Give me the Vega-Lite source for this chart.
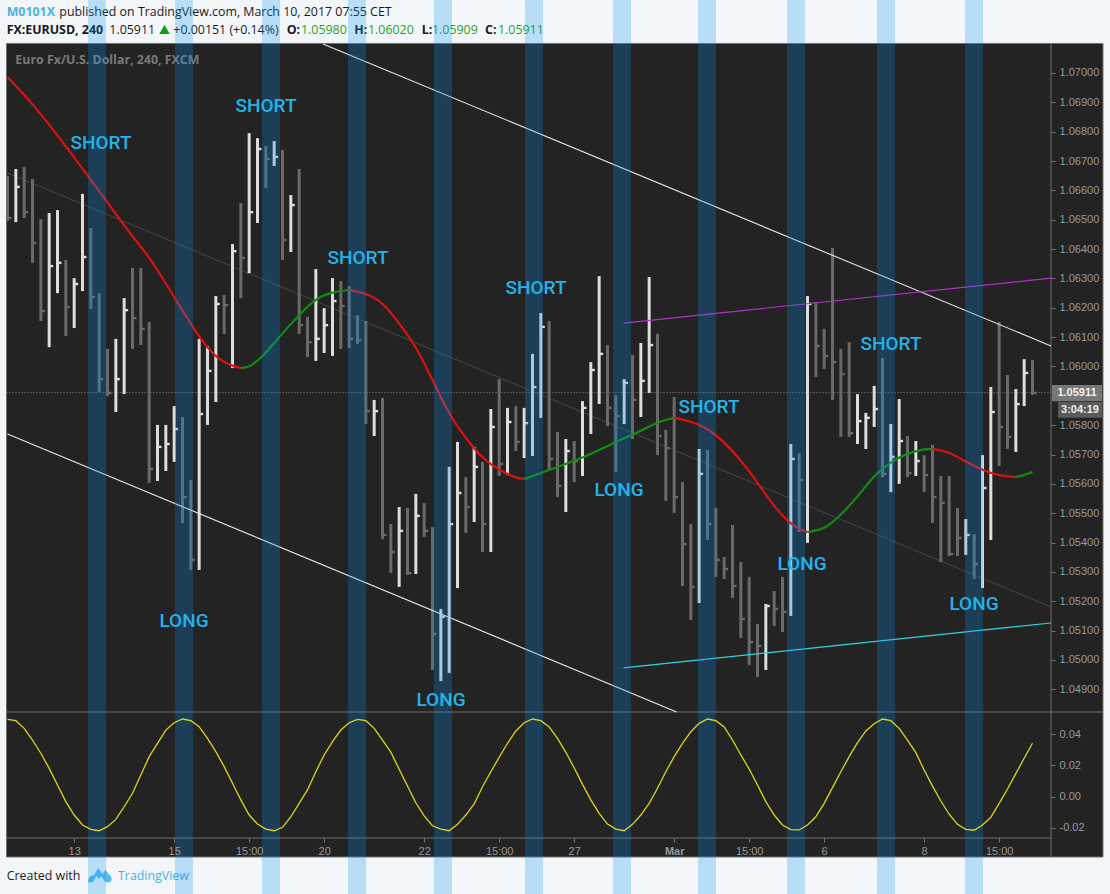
{
  "$schema": "https://vega.github.io/schema/vega-lite/v6.json",
  "width": 1110,
  "height": 894,
  "padding": 0,
  "autosize": {"type": "none"},
  "background": "#f3f6f9",
  "config": {"view": {"stroke": null}, "text": {"font": "Open Sans", "fontSize": 12.4, "align": "left", "baseline": "middle"}},
  "datasets": {
    "bars": [
      {"bar":0,"high":1.06649,"low":1.06496,"close":1.06506,"dir":"down"},
      {"bar":1,"high":1.06673,"low":1.06492,"close":1.06612,"dir":"up"},
      {"bar":2,"high":1.06680,"low":1.06506,"close":1.06526,"dir":"down"},
      {"bar":3,"high":1.06639,"low":1.06353,"close":1.06421,"dir":"down"},
      {"bar":4,"high":1.06502,"low":1.06155,"close":1.06189,"dir":"down"},
      {"bar":5,"high":1.06523,"low":1.06066,"close":1.06342,"dir":"up"},
      {"bar":6,"high":1.06533,"low":1.06250,"close":1.06353,"dir":"up"},
      {"bar":7,"high":1.06363,"low":1.06104,"close":1.06203,"dir":"down"},
      {"bar":8,"high":1.06301,"low":1.06131,"close":1.06281,"dir":"up"},
      {"bar":9,"high":1.06588,"low":1.06257,"close":1.06373,"dir":"up"},
      {"bar":10,"high":1.06472,"low":1.06196,"close":1.06237,"dir":"down"},
      {"bar":11,"high":1.06250,"low":1.05913,"close":1.05957,"dir":"down"},
      {"bar":12,"high":1.06060,"low":1.05899,"close":1.05910,"dir":"down"},
      {"bar":13,"high":1.06094,"low":1.05845,"close":1.05957,"dir":"up"},
      {"bar":14,"high":1.06233,"low":1.05906,"close":1.06192,"dir":"up"},
      {"bar":15,"high":1.06336,"low":1.06060,"close":1.06165,"dir":"down"},
      {"bar":16,"high":1.06336,"low":1.06073,"close":1.06128,"dir":"down"},
      {"bar":17,"high":1.06152,"low":1.05603,"close":1.05651,"dir":"down"},
      {"bar":18,"high":1.05801,"low":1.05610,"close":1.05726,"dir":"up"},
      {"bar":19,"high":1.05801,"low":1.05644,"close":1.05736,"dir":"up"},
      {"bar":20,"high":1.05865,"low":1.05675,"close":1.05787,"dir":"up"},
      {"bar":21,"high":1.05828,"low":1.05467,"close":1.05555,"dir":"down"},
      {"bar":22,"high":1.05613,"low":1.05307,"close":1.05341,"dir":"down"},
      {"bar":23,"high":1.06094,"low":1.05307,"close":1.05838,"dir":"up"},
      {"bar":24,"high":1.06070,"low":1.05801,"close":1.05985,"dir":"up"},
      {"bar":25,"high":1.06240,"low":1.05879,"close":1.06213,"dir":"up"},
      {"bar":26,"high":1.06244,"low":1.06111,"close":1.06209,"dir":"down"},
      {"bar":27,"high":1.06417,"low":1.05995,"close":1.06393,"dir":"up"},
      {"bar":28,"high":1.06557,"low":1.06233,"close":1.06370,"dir":"down"},
      {"bar":29,"high":1.06795,"low":1.06318,"close":1.06526,"dir":"up"},
      {"bar":30,"high":1.06778,"low":1.06489,"close":1.06741,"dir":"up"},
      {"bar":31,"high":1.06751,"low":1.06608,"close":1.06707,"dir":"down"},
      {"bar":32,"high":1.06768,"low":1.06683,"close":1.06714,"dir":"up"},
      {"bar":33,"high":1.06738,"low":1.06363,"close":1.06431,"dir":"down"},
      {"bar":34,"high":1.06584,"low":1.06390,"close":1.06550,"dir":"up"},
      {"bar":35,"high":1.06673,"low":1.06111,"close":1.06141,"dir":"down"},
      {"bar":36,"high":1.06169,"low":1.06032,"close":1.06083,"dir":"down"},
      {"bar":37,"high":1.06332,"low":1.06019,"close":1.06094,"dir":"up"},
      {"bar":38,"high":1.06199,"low":1.06046,"close":1.06141,"dir":"up"},
      {"bar":39,"high":1.06301,"low":1.06036,"close":1.06223,"dir":"up"},
      {"bar":40,"high":1.06291,"low":1.06060,"close":1.06206,"dir":"down"},
      {"bar":41,"high":1.06274,"low":1.06063,"close":1.06094,"dir":"down"},
      {"bar":42,"high":1.06175,"low":1.06077,"close":1.06090,"dir":"down"},
      {"bar":43,"high":1.06155,"low":1.05804,"close":1.05848,"dir":"down"},
      {"bar":44,"high":1.05886,"low":1.05763,"close":1.05848,"dir":"up"},
      {"bar":45,"high":1.05893,"low":1.05412,"close":1.05426,"dir":"down"},
      {"bar":46,"high":1.05463,"low":1.05296,"close":1.05368,"dir":"down"},
      {"bar":47,"high":1.05521,"low":1.05249,"close":1.05440,"dir":"up"},
      {"bar":48,"high":1.05518,"low":1.05290,"close":1.05296,"dir":"down"},
      {"bar":49,"high":1.05566,"low":1.05293,"close":1.05491,"dir":"up"},
      {"bar":50,"high":1.05535,"low":1.05419,"close":1.05440,"dir":"down"},
      {"bar":51,"high":1.05453,"low":1.04966,"close":1.05089,"dir":"down"},
      {"bar":52,"high":1.05174,"low":1.04928,"close":1.05147,"dir":"up"},
      {"bar":53,"high":1.05658,"low":1.04956,"close":1.05463,"dir":"up"},
      {"bar":54,"high":1.05743,"low":1.05245,"close":1.05569,"dir":"up"},
      {"bar":55,"high":1.05623,"low":1.05433,"close":1.05521,"dir":"down"},
      {"bar":56,"high":1.05726,"low":1.05470,"close":1.05658,"dir":"up"},
      {"bar":57,"high":1.05675,"low":1.05368,"close":1.05463,"dir":"down"},
      {"bar":58,"high":1.05855,"low":1.05368,"close":1.05794,"dir":"up"},
      {"bar":59,"high":1.05957,"low":1.05627,"close":1.05668,"dir":"down"},
      {"bar":60,"high":1.05859,"low":1.05630,"close":1.05811,"dir":"up"},
      {"bar":61,"high":1.05865,"low":1.05712,"close":1.05743,"dir":"down"},
      {"bar":62,"high":1.05859,"low":1.05688,"close":1.05807,"dir":"up"},
      {"bar":63,"high":1.06043,"low":1.05695,"close":1.05930,"dir":"up"},
      {"bar":64,"high":1.06182,"low":1.05825,"close":1.06135,"dir":"up"},
      {"bar":65,"high":1.06155,"low":1.05647,"close":1.05685,"dir":"down"},
      {"bar":66,"high":1.05777,"low":1.05555,"close":1.05593,"dir":"down"},
      {"bar":67,"high":1.05753,"low":1.05504,"close":1.05712,"dir":"up"},
      {"bar":68,"high":1.05746,"low":1.05606,"close":1.05678,"dir":"down"},
      {"bar":69,"high":1.05882,"low":1.05627,"close":1.05859,"dir":"up"},
      {"bar":70,"high":1.06015,"low":1.05770,"close":1.05988,"dir":"up"},
      {"bar":71,"high":1.06308,"low":1.05872,"close":1.06043,"dir":"up"},
      {"bar":72,"high":1.06073,"low":1.05797,"close":1.05859,"dir":"down"},
      {"bar":73,"high":1.05903,"low":1.05641,"close":1.05831,"dir":"down"},
      {"bar":74,"high":1.05957,"low":1.05804,"close":1.05944,"dir":"up"},
      {"bar":75,"high":1.06039,"low":1.05753,"close":1.05886,"dir":"down"},
      {"bar":76,"high":1.06080,"low":1.05828,"close":1.05951,"dir":"up"},
      {"bar":77,"high":1.06305,"low":1.05910,"close":1.06073,"dir":"up"},
      {"bar":78,"high":1.06111,"low":1.05698,"close":1.05763,"dir":"down"},
      {"bar":79,"high":1.05784,"low":1.05542,"close":1.05722,"dir":"down"},
      {"bar":80,"high":1.05896,"low":1.05501,"close":1.05555,"dir":"down"},
      {"bar":81,"high":1.05606,"low":1.05252,"close":1.05395,"dir":"down"},
      {"bar":82,"high":1.05463,"low":1.05136,"close":1.05249,"dir":"down"},
      {"bar":83,"high":1.05719,"low":1.05194,"close":1.05634,"dir":"up"},
      {"bar":84,"high":1.05715,"low":1.05409,"close":1.05463,"dir":"down"},
      {"bar":85,"high":1.05518,"low":1.05283,"close":1.05341,"dir":"down"},
      {"bar":86,"high":1.05351,"low":1.05276,"close":1.05310,"dir":"down"},
      {"bar":87,"high":1.05460,"low":1.05211,"close":1.05252,"dir":"down"},
      {"bar":88,"high":1.05334,"low":1.05075,"close":1.05140,"dir":"down"},
      {"bar":89,"high":1.05283,"low":1.04983,"close":1.05061,"dir":"down"},
      {"bar":90,"high":1.05123,"low":1.04942,"close":1.05048,"dir":"down"},
      {"bar":91,"high":1.05191,"low":1.04966,"close":1.05184,"dir":"up"},
      {"bar":92,"high":1.05235,"low":1.05116,"close":1.05174,"dir":"down"},
      {"bar":93,"high":1.05283,"low":1.05095,"close":1.05164,"dir":"down"},
      {"bar":94,"high":1.05736,"low":1.05150,"close":1.05685,"dir":"up"},
      {"bar":95,"high":1.05705,"low":1.05436,"close":1.05613,"dir":"down"},
      {"bar":96,"high":1.06240,"low":1.05399,"close":1.06213,"dir":"up"},
      {"bar":97,"high":1.06220,"low":1.05964,"close":1.06070,"dir":"down"},
      {"bar":98,"high":1.06128,"low":1.05991,"close":1.06036,"dir":"down"},
      {"bar":99,"high":1.06404,"low":1.05886,"close":1.06015,"dir":"down"},
      {"bar":100,"high":1.06060,"low":1.05760,"close":1.05974,"dir":"down"},
      {"bar":101,"high":1.06083,"low":1.05760,"close":1.05773,"dir":"down"},
      {"bar":102,"high":1.05906,"low":1.05736,"close":1.05814,"dir":"up"},
      {"bar":103,"high":1.05842,"low":1.05719,"close":1.05825,"dir":"up"},
      {"bar":104,"high":1.05934,"low":1.05794,"close":1.05855,"dir":"up"},
      {"bar":105,"high":1.06029,"low":1.05623,"close":1.05634,"dir":"down"},
      {"bar":106,"high":1.05804,"low":1.05572,"close":1.05692,"dir":"up"},
      {"bar":107,"high":1.05889,"low":1.05600,"close":1.05746,"dir":"up"},
      {"bar":108,"high":1.05763,"low":1.05623,"close":1.05637,"dir":"down"},
      {"bar":109,"high":1.05746,"low":1.05627,"close":1.05678,"dir":"up"},
      {"bar":110,"high":1.05698,"low":1.05572,"close":1.05630,"dir":"down"},
      {"bar":111,"high":1.05733,"low":1.05467,"close":1.05555,"dir":"down"},
      {"bar":112,"high":1.05627,"low":1.05334,"close":1.05535,"dir":"down"},
      {"bar":113,"high":1.05627,"low":1.05354,"close":1.05361,"dir":"down"},
      {"bar":114,"high":1.05518,"low":1.05354,"close":1.05416,"dir":"down"},
      {"bar":115,"high":1.05480,"low":1.05358,"close":1.05426,"dir":"up"},
      {"bar":116,"high":1.05429,"low":1.05276,"close":1.05327,"dir":"down"},
      {"bar":117,"high":1.05698,"low":1.05245,"close":1.05586,"dir":"up"},
      {"bar":118,"high":1.05930,"low":1.05409,"close":1.05845,"dir":"up"},
      {"bar":119,"high":1.06152,"low":1.05661,"close":1.05794,"dir":"down"},
      {"bar":120,"high":1.05971,"low":1.05719,"close":1.05760,"dir":"down"},
      {"bar":121,"high":1.05923,"low":1.05709,"close":1.05872,"dir":"up"},
      {"bar":122,"high":1.06025,"low":1.05865,"close":1.05978,"dir":"up"},
      {"bar":123,"high":1.06022,"low":1.05903,"close":1.05910,"dir":"down"}
    ],
    "ma": [
      {"bar":0,"price":1.06986,"seg":1,"kind":"fall"},
      {"bar":3,"price":1.06898,"seg":1,"kind":"fall"},
      {"bar":8,"price":1.06714,"seg":1,"kind":"fall"},
      {"bar":10,"price":1.06635,"seg":1,"kind":"fall"},
      {"bar":12,"price":1.06560,"seg":1,"kind":"fall"},
      {"bar":14,"price":1.06479,"seg":1,"kind":"fall"},
      {"bar":17,"price":1.06373,"seg":1,"kind":"fall"},
      {"bar":18,"price":1.06329,"seg":1,"kind":"fall"},
      {"bar":20,"price":1.06237,"seg":1,"kind":"fall"},
      {"bar":23,"price":1.06097,"seg":1,"kind":"fall"},
      {"bar":25,"price":1.06032,"seg":1,"kind":"fall"},
      {"bar":26,"price":1.06015,"seg":1,"kind":"fall"},
      {"bar":27,"price":1.06002,"seg":1,"kind":"fall"},
      {"bar":28,"price":1.05995,"seg":1,"kind":"fall"},
      {"bar":28,"price":1.05995,"seg":2,"kind":"rise"},
      {"bar":29,"price":1.05998,"seg":2,"kind":"rise"},
      {"bar":30,"price":1.06019,"seg":2,"kind":"rise"},
      {"bar":31,"price":1.06046,"seg":2,"kind":"rise"},
      {"bar":33,"price":1.06114,"seg":2,"kind":"rise"},
      {"bar":35,"price":1.06175,"seg":2,"kind":"rise"},
      {"bar":37,"price":1.06233,"seg":2,"kind":"rise"},
      {"bar":39,"price":1.06254,"seg":2,"kind":"rise"},
      {"bar":41,"price":1.06261,"seg":2,"kind":"rise"},
      {"bar":41,"price":1.06261,"seg":3,"kind":"fall"},
      {"bar":43,"price":1.06250,"seg":3,"kind":"fall"},
      {"bar":45,"price":1.06220,"seg":3,"kind":"fall"},
      {"bar":47,"price":1.06148,"seg":3,"kind":"fall"},
      {"bar":49,"price":1.06070,"seg":3,"kind":"fall"},
      {"bar":51,"price":1.05954,"seg":3,"kind":"fall"},
      {"bar":53,"price":1.05835,"seg":3,"kind":"fall"},
      {"bar":55,"price":1.05756,"seg":3,"kind":"fall"},
      {"bar":57,"price":1.05685,"seg":3,"kind":"fall"},
      {"bar":59,"price":1.05647,"seg":3,"kind":"fall"},
      {"bar":61,"price":1.05620,"seg":3,"kind":"fall"},
      {"bar":62,"price":1.05617,"seg":3,"kind":"fall"},
      {"bar":62,"price":1.05617,"seg":4,"kind":"rise"},
      {"bar":64,"price":1.05637,"seg":4,"kind":"rise"},
      {"bar":66,"price":1.05658,"seg":4,"kind":"rise"},
      {"bar":69,"price":1.05688,"seg":4,"kind":"rise"},
      {"bar":72,"price":1.05729,"seg":4,"kind":"rise"},
      {"bar":74,"price":1.05756,"seg":4,"kind":"rise"},
      {"bar":76,"price":1.05780,"seg":4,"kind":"rise"},
      {"bar":78,"price":1.05811,"seg":4,"kind":"rise"},
      {"bar":80,"price":1.05825,"seg":4,"kind":"rise"},
      {"bar":80,"price":1.05825,"seg":5,"kind":"fall"},
      {"bar":82,"price":1.05814,"seg":5,"kind":"fall"},
      {"bar":84,"price":1.05790,"seg":5,"kind":"fall"},
      {"bar":86,"price":1.05743,"seg":5,"kind":"fall"},
      {"bar":88,"price":1.05681,"seg":5,"kind":"fall"},
      {"bar":90,"price":1.05606,"seg":5,"kind":"fall"},
      {"bar":92,"price":1.05521,"seg":5,"kind":"fall"},
      {"bar":94,"price":1.05463,"seg":5,"kind":"fall"},
      {"bar":95,"price":1.05446,"seg":5,"kind":"fall"},
      {"bar":96,"price":1.05436,"seg":5,"kind":"fall"},
      {"bar":96,"price":1.05436,"seg":6,"kind":"rise"},
      {"bar":98,"price":1.05443,"seg":6,"kind":"rise"},
      {"bar":100,"price":1.05494,"seg":6,"kind":"rise"},
      {"bar":102,"price":1.05555,"seg":6,"kind":"rise"},
      {"bar":104,"price":1.05630,"seg":6,"kind":"rise"},
      {"bar":106,"price":1.05675,"seg":6,"kind":"rise"},
      {"bar":108,"price":1.05705,"seg":6,"kind":"rise"},
      {"bar":110,"price":1.05719,"seg":6,"kind":"rise"},
      {"bar":111,"price":1.05719,"seg":6,"kind":"rise"},
      {"bar":111,"price":1.05719,"seg":7,"kind":"fall"},
      {"bar":113,"price":1.05709,"seg":7,"kind":"fall"},
      {"bar":115,"price":1.05675,"seg":7,"kind":"fall"},
      {"bar":117,"price":1.05647,"seg":7,"kind":"fall"},
      {"bar":119,"price":1.05627,"seg":7,"kind":"fall"},
      {"bar":121,"price":1.05623,"seg":7,"kind":"fall"},
      {"bar":121,"price":1.05623,"seg":8,"kind":"rise"},
      {"bar":122,"price":1.05630,"seg":8,"kind":"rise"},
      {"bar":123,"price":1.05641,"seg":8,"kind":"rise"}
    ],
    "osc": [
      {"bar":0,"v":0.0496},{"bar":1,"v":0.0487},{"bar":2,"v":0.0438},{"bar":3,"v":0.0363},{"bar":4,"v":0.0278},{"bar":5,"v":0.0181},{"bar":6,"v":0.0074},{"bar":7,"v":-0.0033},{"bar":8,"v":-0.0119},{"bar":9,"v":-0.0183},
      {"bar":10,"v":-0.0211},{"bar":11,"v":-0.022},{"bar":12,"v":-0.0194},{"bar":13,"v":-0.0147},{"bar":14,"v":-0.0066},{"bar":15,"v":0.0021},{"bar":16,"v":0.0138},{"bar":17,"v":0.0256},{"bar":18,"v":0.0342},{"bar":19,"v":0.0427},
      {"bar":20,"v":0.0474},{"bar":21,"v":0.0498},{"bar":22,"v":0.0487},{"bar":23,"v":0.0449},{"bar":24,"v":0.0374},{"bar":25,"v":0.0288},{"bar":26,"v":0.0192},{"bar":27,"v":0.0085},{"bar":28,"v":-0.0022},{"bar":29,"v":-0.0119},
      {"bar":30,"v":-0.0177},{"bar":31,"v":-0.0209},{"bar":32,"v":-0.022},{"bar":33,"v":-0.0198},{"bar":34,"v":-0.013},{"bar":35,"v":-0.0044},{"bar":36,"v":0.0042},{"bar":37,"v":0.0159},{"bar":38,"v":0.0267},{"bar":39,"v":0.0352},
      {"bar":40,"v":0.0427},{"bar":41,"v":0.0474},{"bar":42,"v":0.0496},{"bar":43,"v":0.0487},{"bar":44,"v":0.0438},{"bar":45,"v":0.0363},{"bar":46,"v":0.0285},{"bar":47,"v":0.0175},{"bar":48,"v":0.0067},{"bar":49,"v":-0.004},
      {"bar":50,"v":-0.0125},{"bar":51,"v":-0.0188},{"bar":52,"v":-0.0209},{"bar":53,"v":-0.022},{"bar":54,"v":-0.0179},{"bar":55,"v":-0.0119},{"bar":56,"v":-0.0048},{"bar":57,"v":0.0063},{"bar":58,"v":0.0159},{"bar":59,"v":0.0252},
      {"bar":60,"v":0.0342},{"bar":61,"v":0.0421},{"bar":62,"v":0.0474},{"bar":63,"v":0.0498},{"bar":64,"v":0.0487},{"bar":65,"v":0.0447},{"bar":66,"v":0.0374},{"bar":67,"v":0.0284},{"bar":68,"v":0.0185},{"bar":69,"v":0.0078},
      {"bar":70,"v":-0.0022},{"bar":71,"v":-0.0108},{"bar":72,"v":-0.0177},{"bar":73,"v":-0.0209},{"bar":74,"v":-0.022},{"bar":75,"v":-0.0179},{"bar":76,"v":-0.0119},{"bar":77,"v":-0.0044},{"bar":78,"v":0.0053},{"bar":79,"v":0.0159},
      {"bar":80,"v":0.0256},{"bar":81,"v":0.0342},{"bar":82,"v":0.0416},{"bar":83,"v":0.047},{"bar":84,"v":0.0498},{"bar":85,"v":0.0487},{"bar":86,"v":0.0447},{"bar":87,"v":0.0363},{"bar":88,"v":0.0267},{"bar":89,"v":0.0177},
      {"bar":90,"v":0.0074},{"bar":91,"v":-0.0033},{"bar":92,"v":-0.0119},{"bar":93,"v":-0.0183},{"bar":94,"v":-0.0213},{"bar":95,"v":-0.0215},{"bar":96,"v":-0.0183},{"bar":97,"v":-0.013},{"bar":98,"v":-0.0044},{"bar":99,"v":0.0057},
      {"bar":100,"v":0.0159},{"bar":101,"v":0.0256},{"bar":102,"v":0.0346},{"bar":103,"v":0.0421},{"bar":104,"v":0.0468},{"bar":105,"v":0.0498},{"bar":106,"v":0.0487},{"bar":107,"v":0.0438},{"bar":108,"v":0.0363},{"bar":109,"v":0.0282},
      {"bar":110,"v":0.017},{"bar":111,"v":0.0067},{"bar":112,"v":-0.0029},{"bar":113,"v":-0.0114},{"bar":114,"v":-0.0179},{"bar":115,"v":-0.0211},{"bar":116,"v":-0.0217},{"bar":117,"v":-0.0183},{"bar":118,"v":-0.0134},{"bar":119,"v":-0.0044},
      {"bar":120,"v":0.0048},{"bar":121,"v":0.0147},{"bar":122,"v":0.0246},{"bar":123,"v":0.0342}
    ]
  },
  "encoding": {
    "x": {
      "field": "bar",
      "type": "quantitative",
      "scale": {"domain": [-0.9, 132.3], "nice": false, "zero": false},
      "axis": {
        "title": null,
        "orient": "bottom",
        "offset": -56,
        "zindex": 1,
        "grid": false,
        "domain": false,
        "values": [8, 20, 29, 38, 50, 59, 68, 80, 89, 98, 110, 119],
        "labelExpr": "{'8':'13','20':'15','29':'15:00','38':'20','50':'22','59':'15:00','68':'27','80':'Mar','89':'15:00','98':'6','110':'8','119':'15:00'}[datum.value]",
        "labelFontWeight": {"condition": {"test": "datum.value == 80", "value": "bold"}, "value": "normal"},
        "labelOverlap": false,
        "labelFlush": false,
        "labelFont": "Liberation Sans",
        "labelFontSize": 11,
        "labelColor": "#999999",
        "labelPadding": 3,
        "tickColor": "#777777",
        "tickSize": 4
      }
    }
  },
  "layer": [
    {
      "layer": [
        {
          "data": {"values": [{"bar": -0.12, "bar2": 131.46, "top": 1.071005, "bottom": 1.043288}]},
          "mark": {"type": "rect", "fill": "#232323", "stroke": "#707070", "strokeWidth": 1},
          "encoding": {
            "x2": {"field": "bar2"},
            "y": {"field": "top", "type": "quantitative", "scale": {"domain": [1.042027, 1.072487], "nice": false, "zero": false}, "axis": null},
            "y2": {"field": "bottom"}
          }
        },
        {
          "data": {"values": [
            {"bar": -0.12, "bar2": 131.46, "price": 1.048228},
            {"bar": -0.12, "bar2": 125.22, "price": 1.043935}
          ]},
          "mark": {"type": "rule", "color": "#707070", "strokeWidth": 1},
          "encoding": {
            "x2": {"field": "bar2"},
            "y": {"field": "price", "type": "quantitative", "scale": {"domain": [1.042027, 1.072487], "nice": false, "zero": false}, "axis": null}
          }
        },
        {
          "data": {"values": [{"bar": 125.22, "top": 1.071005, "bottom": 1.043288}]},
          "mark": {"type": "rule", "color": "#707070", "strokeWidth": 1},
          "encoding": {
            "y": {"field": "top", "type": "quantitative", "scale": {"domain": [1.042027, 1.072487], "nice": false, "zero": false}, "axis": null},
            "y2": {"field": "bottom"}
          }
        },
        {
          "data": {"values": [{"bar": -0.12, "bar2": 125.22, "price": 1.05911}]},
          "mark": {"type": "rule", "color": "#8a8a8a", "strokeWidth": 1, "strokeDash": [1, 2]},
          "encoding": {
            "x2": {"field": "bar2"},
            "y": {"field": "price", "type": "quantitative", "scale": {"domain": [1.042027, 1.072487], "nice": false, "zero": false}, "axis": null}
          }
        },
        {
          "data": {"values": [{"bar": 0, "bar2": 125.22, "price": 1.06659, "price2": 1.05181}]},
          "mark": {"type": "rule", "color": "#454545", "strokeWidth": 1},
          "encoding": {
            "x2": {"field": "bar2"},
            "y": {"field": "price", "type": "quantitative", "scale": {"domain": [1.042027, 1.072487], "nice": false, "zero": false}, "axis": null},
            "y2": {"field": "price2"}
          }
        },
        {
          "data": {"name": "bars"},
          "mark": {"type": "rule", "strokeWidth": 3},
          "encoding": {
            "y": {"field": "high", "type": "quantitative", "scale": {"domain": [1.042027, 1.072487], "nice": false, "zero": false}, "axis": null},
            "y2": {"field": "low"},
            "color": {"field": "dir", "type": "nominal", "scale": {"domain": ["up", "down", "fall", "rise"], "range": ["#dddddd", "#6a6a6a", "#dc1212", "#128c12"]}, "legend": null}
          }
        },
        {
          "data": {"name": "bars"},
          "mark": {"type": "point", "filled": true, "opacity": 1, "size": 5.8, "shape": "M0,-1 L3.3,-1 L3.3,1 L0,1 Z"},
          "encoding": {
            "y": {"field": "close", "type": "quantitative", "scale": {"domain": [1.042027, 1.072487], "nice": false, "zero": false}, "axis": null},
            "color": {"field": "dir", "type": "nominal", "scale": {"domain": ["up", "down", "fall", "rise"], "range": ["#dddddd", "#6a6a6a", "#dc1212", "#128c12"]}, "legend": null}
          }
        },
        {
          "data": {"values": [
            {"bar": 37.86, "bar2": 125.22, "price": 1.07099, "price2": 1.0607},
            {"bar": 0, "bar2": 80.3, "price": 1.0577, "price2": 1.04823}
          ]},
          "mark": {"type": "rule", "color": "#e8e8e8", "strokeWidth": 1.1},
          "encoding": {
            "x2": {"field": "bar2"},
            "y": {"field": "price", "type": "quantitative", "scale": {"domain": [1.042027, 1.072487], "nice": false, "zero": false}, "axis": null},
            "y2": {"field": "price2"}
          }
        },
        {
          "data": {"values": [{"bar": 73.9, "bar2": 125.22, "price": 1.06148, "price2": 1.06301}]},
          "mark": {"type": "rule", "color": "#b032c4", "strokeWidth": 1.2},
          "encoding": {
            "x2": {"field": "bar2"},
            "y": {"field": "price", "type": "quantitative", "scale": {"domain": [1.042027, 1.072487], "nice": false, "zero": false}, "axis": null},
            "y2": {"field": "price2"}
          }
        },
        {
          "data": {"values": [{"bar": 73.9, "bar2": 125.22, "price": 1.04973, "price2": 1.05126}]},
          "mark": {"type": "rule", "color": "#2fd4e4", "strokeWidth": 1.2},
          "encoding": {
            "x2": {"field": "bar2"},
            "y": {"field": "price", "type": "quantitative", "scale": {"domain": [1.042027, 1.072487], "nice": false, "zero": false}, "axis": null},
            "y2": {"field": "price2"}
          }
        },
        {
          "data": {"name": "ma"},
          "mark": {"type": "line", "strokeWidth": 2.2, "interpolate": "basis"},
          "encoding": {
            "y": {"field": "price", "type": "quantitative", "scale": {"domain": [1.042027, 1.072487], "nice": false, "zero": false}, "axis": null},
            "detail": {"field": "seg"},
            "color": {"field": "kind", "type": "nominal", "scale": {"domain": ["up", "down", "fall", "rise"], "range": ["#dddddd", "#6a6a6a", "#dc1212", "#128c12"]}, "legend": null}
          }
        },
        {
          "data": {"values": [{"bar": 125.34, "bar2": 131.34, "top": 1.05937, "bottom": 1.05882}]},
          "mark": {"type": "rect", "fill": "#777777"},
          "encoding": {
            "x2": {"field": "bar2"},
            "y": {"field": "top", "type": "quantitative", "scale": {"domain": [1.042027, 1.072487], "nice": false, "zero": false}, "axis": null},
            "y2": {"field": "bottom"}
          }
        },
        {
          "data": {"values": [{"bar": 126.06, "bar2": 131.34, "top": 1.05879, "bottom": 1.05825}]},
          "mark": {"type": "rect", "fill": "#5a5a5a"},
          "encoding": {
            "x2": {"field": "bar2"},
            "y": {"field": "top", "type": "quantitative", "scale": {"domain": [1.042027, 1.072487], "nice": false, "zero": false}, "axis": null},
            "y2": {"field": "bottom"}
          }
        },
        {
          "data": {"values": [
            {"bar": 128.34, "price": 1.059095, "label": "1.05911"},
            {"bar": 128.7, "price": 1.05852, "label": "3:04:19"}
          ]},
          "mark": {"type": "text", "font": "Liberation Sans", "fontSize": 11, "fontWeight": "bold", "color": "#f0f0f0", "align": "center"},
          "encoding": {
            "y": {"field": "price", "type": "quantitative", "scale": {"domain": [1.042027, 1.072487], "nice": false, "zero": false}, "axis": null},
            "text": {"field": "label"}
          }
        },
        {
          "data": {"values": [
            {"bar": -0.1, "price": 1.07209, "label": "M0101X"}
          ]},
          "mark": {"type": "text", "fontWeight": "bold", "color": "#47b2e6"},
          "encoding": {
            "y": {"field": "price", "type": "quantitative", "scale": {"domain": [1.042027, 1.072487], "nice": false, "zero": false}, "axis": null},
            "text": {"field": "label"}
          }
        },
        {
          "data": {"values": [
            {"bar": 6.22, "price": 1.07209, "label": "published on TradingView.com, March 10, 2017 07:55 CET"},
            {"bar": 12.22, "price": 1.07148, "label": "1.05911"},
            {"bar": 19.9, "price": 1.07148, "label": "+0.00151 (+0.14%)"},
            {"bar": -0.1, "price": 1.04264, "label": "Created with"}
          ]},
          "mark": {"type": "text", "color": "#1a1a1a"},
          "encoding": {
            "y": {"field": "price", "type": "quantitative", "scale": {"domain": [1.042027, 1.072487], "nice": false, "zero": false}, "axis": null},
            "text": {"field": "label"}
          }
        },
        {
          "data": {"values": [
            {"bar": -0.1, "price": 1.07148, "label": "FX:EURUSD, 240"},
            {"bar": 33.5, "price": 1.07148, "label": "O:"},
            {"bar": 41.62, "price": 1.07148, "label": "H:"},
            {"bar": 49.7, "price": 1.07148, "label": "L:"},
            {"bar": 57.3, "price": 1.07148, "label": "C:"}
          ]},
          "mark": {"type": "text", "fontWeight": "bold", "color": "#1a1a1a"},
          "encoding": {
            "y": {"field": "price", "type": "quantitative", "scale": {"domain": [1.042027, 1.072487], "nice": false, "zero": false}, "axis": null},
            "text": {"field": "label"}
          }
        },
        {
          "data": {"values": [
            {"bar": 35.22, "price": 1.07148, "label": "1.05980"},
            {"bar": 43.26, "price": 1.07148, "label": "1.06020"},
            {"bar": 50.94, "price": 1.07148, "label": "1.05909"},
            {"bar": 58.86, "price": 1.07148, "label": "1.05911"}
          ]},
          "mark": {"type": "text", "color": "#1fa31f"},
          "encoding": {
            "y": {"field": "price", "type": "quantitative", "scale": {"domain": [1.042027, 1.072487], "nice": false, "zero": false}, "axis": null},
            "text": {"field": "label"}
          }
        },
        {
          "data": {"values": [{"bar": 18.84, "price": 1.07148}]},
          "mark": {"type": "point", "shape": "triangle-up", "filled": true, "size": 110, "color": "#129c12", "opacity": 1},
          "encoding": {
            "y": {"field": "price", "type": "quantitative", "scale": {"domain": [1.042027, 1.072487], "nice": false, "zero": false}, "axis": null}
          }
        },
        {
          "data": {"values": [{"bar": 0.94, "price": 1.07043, "label": "Euro Fx/U.S. Dollar, 240, FXCM"}]},
          "mark": {"type": "text", "fontWeight": "bold", "color": "#7a7a7a"},
          "encoding": {
            "y": {"field": "price", "type": "quantitative", "scale": {"domain": [1.042027, 1.072487], "nice": false, "zero": false}, "axis": null},
            "text": {"field": "label"}
          }
        },
        {
          "data": {"values": [{"bar": 13.26, "price": 1.04264, "label": "TradingView"}]},
          "mark": {"type": "text", "color": "#47b2e6"},
          "encoding": {
            "y": {"field": "price", "type": "quantitative", "scale": {"domain": [1.042027, 1.072487], "nice": false, "zero": false}, "axis": null},
            "text": {"field": "label"}
          }
        },
        {
          "data": {"values": [{"bar": 11.1, "price": 1.04267}]},
          "mark": {"type": "point", "filled": true, "size": 576, "color": "#52bdf0", "opacity": 1, "shape": "M-1,0.6 C-1,0.2 -0.8,0 -0.5,0 L-0.15,-0.6 L0.2,-0.1 L0.45,-0.45 L0.85,0.05 C1.05,0.2 1,0.6 0.7,0.6 L0.45,0.6 L0.1,0.1 L-0.1,0.35 L-0.3,0.05 L-0.6,0.6 Z"},
          "encoding": {
            "y": {"field": "price", "type": "quantitative", "scale": {"domain": [1.042027, 1.072487], "nice": false, "zero": false}, "axis": null}
          }
        },
        {
          "data": {"values": [
            {"bar": 9.66, "bar2": 11.82},
            {"bar": 20.1, "bar2": 22.26},
            {"bar": 30.54, "bar2": 32.7},
            {"bar": 40.86, "bar2": 43.02},
            {"bar": 51.18, "bar2": 53.34},
            {"bar": 62.1, "bar2": 64.26},
            {"bar": 72.66, "bar2": 74.82},
            {"bar": 82.86, "bar2": 85.02},
            {"bar": 93.54, "bar2": 95.7},
            {"bar": 104.34, "bar2": 106.5},
            {"bar": 114.9, "bar2": 117.06}
          ]},
          "mark": {"type": "rect", "fill": "#0693f5", "opacity": 0.25},
          "encoding": {"x2": {"field": "bar2"}}
        },
        {
          "data": {"values": [
            {"bar": 11.22, "price": 1.06761, "label": "SHORT"},
            {"bar": 31.02, "price": 1.06887, "label": "SHORT"},
            {"bar": 42.06, "price": 1.0637, "label": "SHORT"},
            {"bar": 63.42, "price": 1.06267, "label": "SHORT"},
            {"bar": 84.18, "price": 1.05862, "label": "SHORT"},
            {"bar": 106.02, "price": 1.06077, "label": "SHORT"},
            {"bar": 21.18, "price": 1.05133, "label": "LONG"},
            {"bar": 52.02, "price": 1.04864, "label": "LONG"},
            {"bar": 73.38, "price": 1.05579, "label": "LONG"},
            {"bar": 95.34, "price": 1.05327, "label": "LONG"},
            {"bar": 115.98, "price": 1.05191, "label": "LONG"}
          ]},
          "mark": {"type": "text", "font": "Roboto", "fontSize": 19, "fontWeight": 500, "color": "#22b3ec", "align": "center"},
          "encoding": {
            "y": {"field": "price", "type": "quantitative", "scale": {"domain": [1.042027, 1.072487], "nice": false, "zero": false}, "axis": null},
            "text": {"field": "label"}
          }
        }
      ]
    },
    {
      "data": {"values": [{"bar": 125.22, "price": 1.06}]},
      "mark": {"type": "rule", "opacity": 0},
      "encoding": {
        "y": {
          "field": "price",
          "type": "quantitative",
          "scale": {"domain": [1.042027, 1.072487], "nice": false, "zero": false},
          "axis": {
            "title": null,
            "orient": "right",
            "offset": -59,
            "zindex": 1,
            "grid": false,
            "domain": false,
            "values": [1.049, 1.05, 1.051, 1.052, 1.053, 1.054, 1.055, 1.056, 1.057, 1.058, 1.06, 1.061, 1.062, 1.063, 1.064, 1.065, 1.066, 1.067, 1.068, 1.069, 1.07],
            "format": ".5f",
            "labelFont": "Liberation Sans",
            "labelFontSize": 11,
            "labelColor": "#999999",
            "labelPadding": 4,
            "tickColor": "#777777",
            "tickSize": 4
          }
        }
      }
    },
    {
      "data": {"name": "osc"},
      "mark": {"type": "line", "color": "#dcd61e", "strokeWidth": 1.3},
      "encoding": {
        "y": {
          "field": "v",
          "type": "quantitative",
          "scale": {"domain": [-0.06266, 0.51189], "nice": false, "zero": false},
          "axis": {
            "title": null,
            "orient": "right",
            "offset": -59,
            "zindex": 1,
            "grid": false,
            "domain": false,
            "values": [-0.02, 0, 0.02, 0.04],
            "labelExpr": "replace(format(datum.value, '.2f'), '−', '-')",
            "labelFont": "Liberation Sans",
            "labelFontSize": 11,
            "labelColor": "#999999",
            "labelPadding": 4,
            "tickColor": "#777777",
            "tickSize": 4
          }
        }
      }
    }
  ],
  "resolve": {"scale": {"y": "independent"}, "axis": {"y": "independent"}}
}
